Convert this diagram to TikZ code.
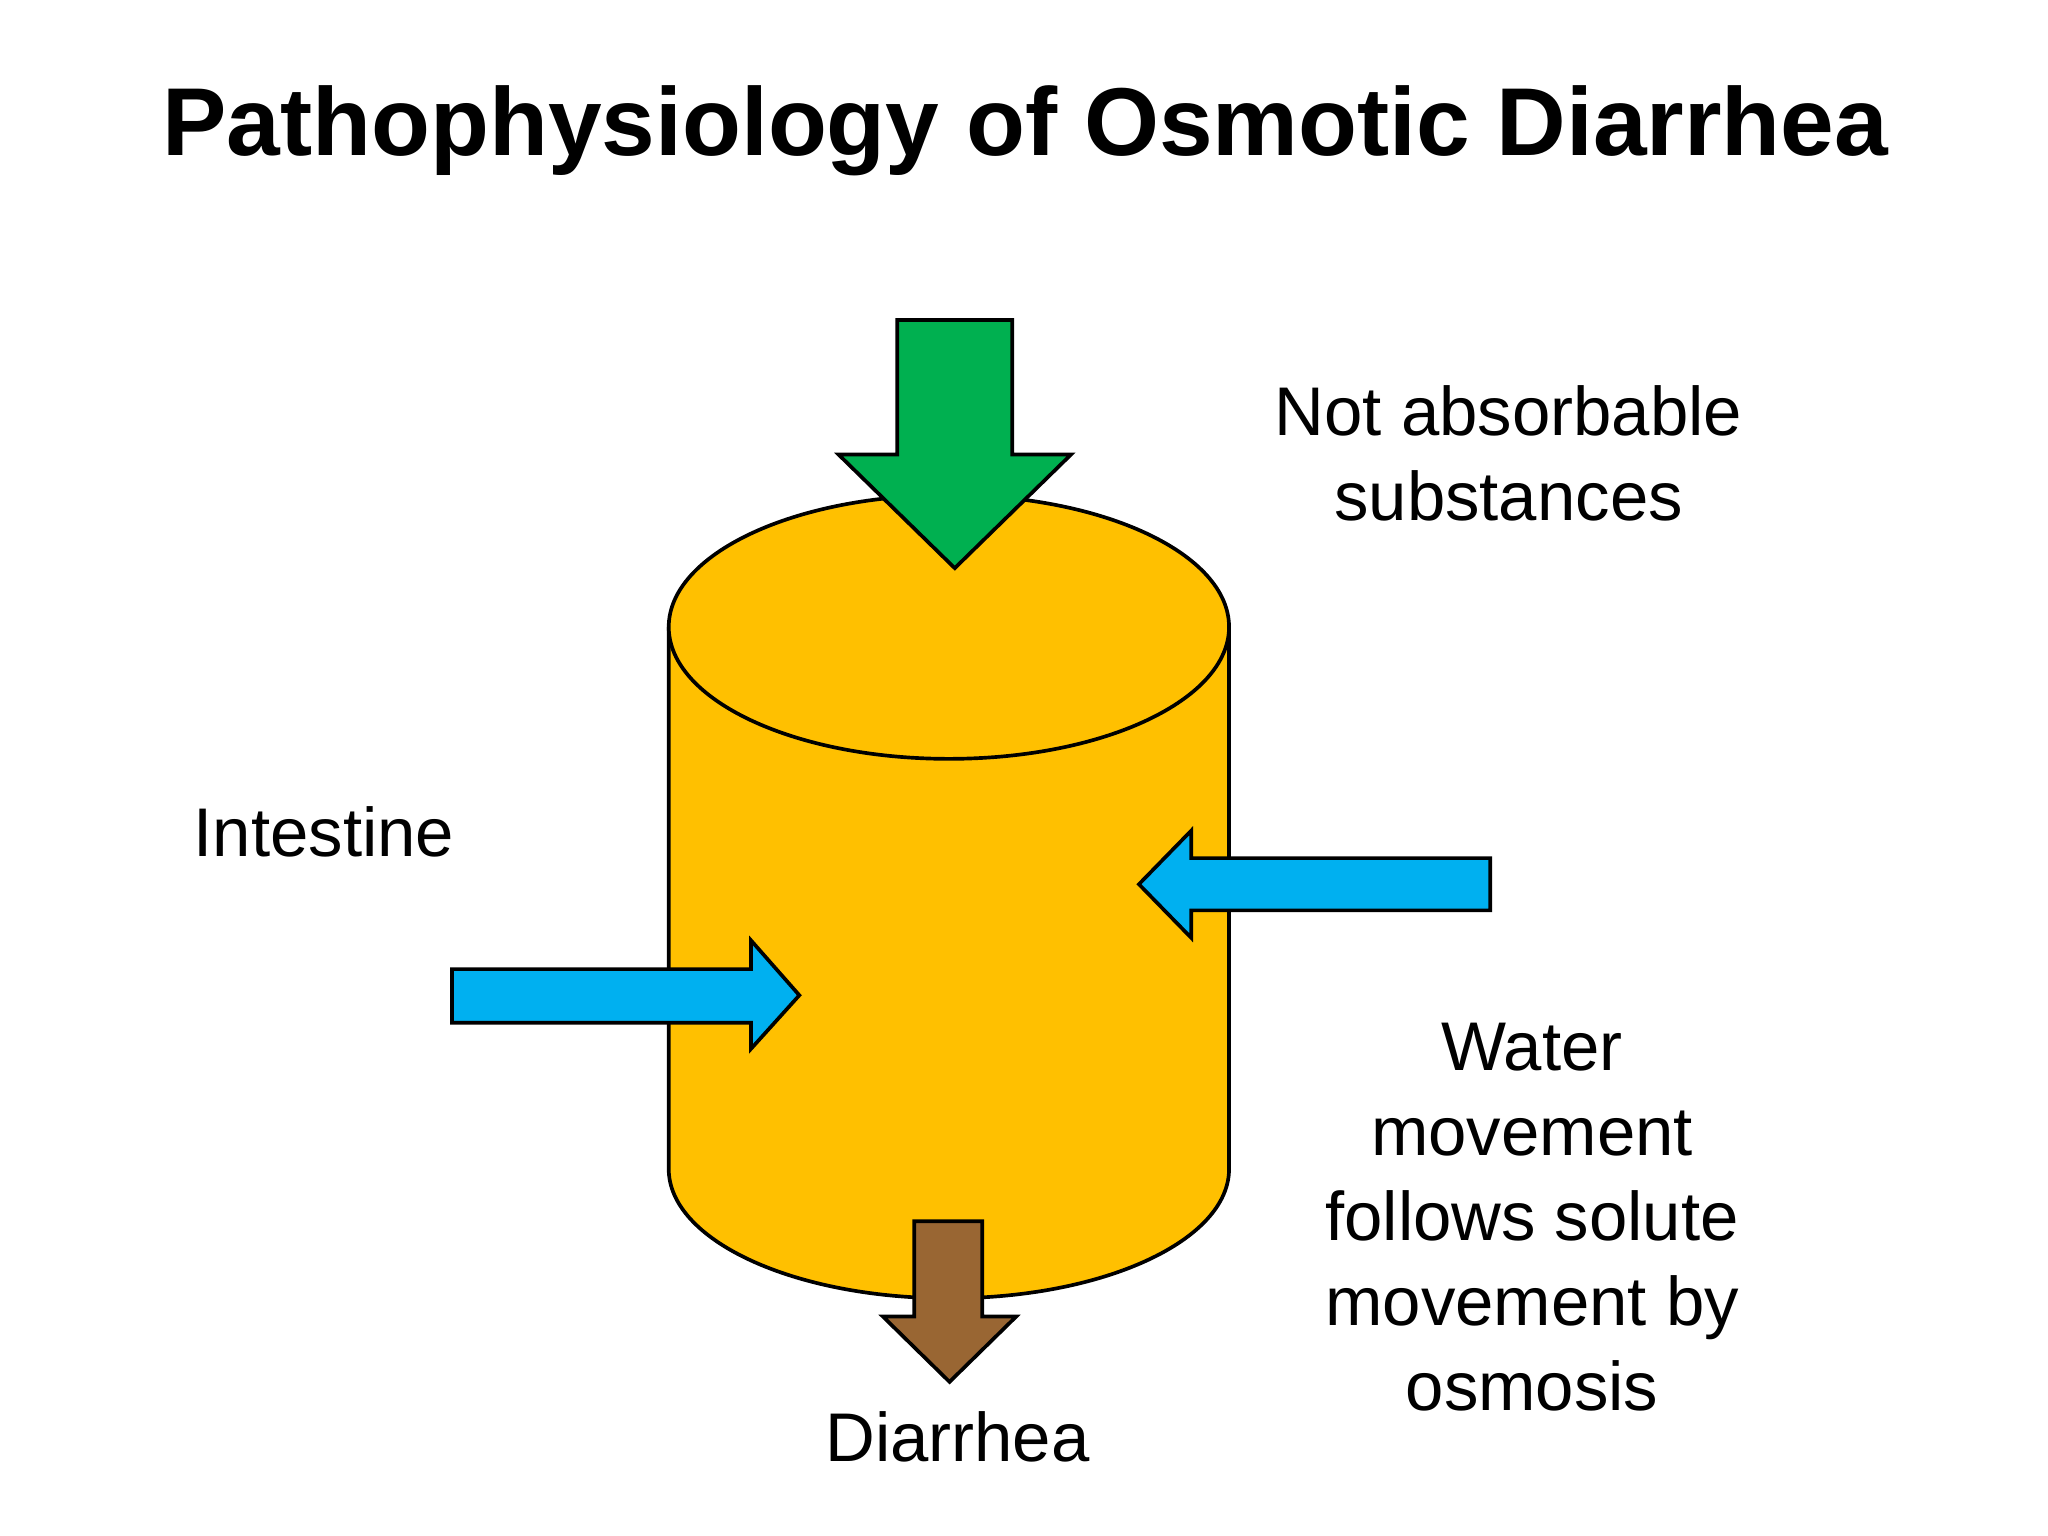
\documentclass[tikz,border=0pt]{standalone}
\usepackage{fontspec}
\setmainfont{Liberation Sans}
\definecolor{gold}{HTML}{FFC000}
\definecolor{grn}{HTML}{00B050}
\definecolor{blu}{HTML}{00B0F0}
\definecolor{brn}{HTML}{996633}
\begin{document}
\begin{tikzpicture}[x=0.01cm,y=-0.01cm,
  lbl/.style={font=\fontsize{15}{18.5}\selectfont,align=center,inner sep=0},
  arr/.style={draw=black,line width=0.8pt,line join=miter}]
\useasboundingbox (0,0) rectangle (1568,1176);
\node[font=\fontsize{21}{25}\selectfont\bfseries,inner sep=0] (title) at (785,100) {Pathophysiology of Osmotic Diarrhea};
% cylinder
\fill[gold] (512,480) -- (512,895) arc[start angle=180,end angle=360,x radius=214.5,y radius=-99] -- (941,480) -- cycle;
\draw[line width=0.8pt] (512,480) -- (512,895) arc[start angle=180,end angle=360,x radius=214.5,y radius=-99] -- (941,480);
\draw[fill=gold,line width=0.8pt] (726.5,480) ellipse[x radius=214.5,y radius=101];
% arrows
\draw[arr,fill=grn] (687,245) -- (775,245) -- (775,348) -- (820,348) -- (731,435) -- (642,348) -- (687,348) -- cycle;
\draw[arr,fill=blu] (346,742) -- (575,742) -- (575,720) -- (612,762) -- (575,803) -- (575,783) -- (346,783) -- cycle;
\draw[arr,fill=blu] (1141,657) -- (912,657) -- (912,636) -- (872,677) -- (912,718) -- (912,697) -- (1141,697) -- cycle;
\draw[arr,fill=brn] (700,935) -- (752,935) -- (752,1008) -- (778,1008) -- (727,1058) -- (676,1008) -- (700,1008) -- cycle;
% labels
\node[lbl] (nas) at (1155,347) {Not absorbable\\substances};
\node[lbl] (int) at (248,637) {Intestine};
\node[lbl] (wat) at (1173,932) {Water\\movement\\follows solute\\movement by\\osmosis};
\node[lbl] (dia) at (733,1100) {Diarrhea};
\end{tikzpicture}
\end{document}
